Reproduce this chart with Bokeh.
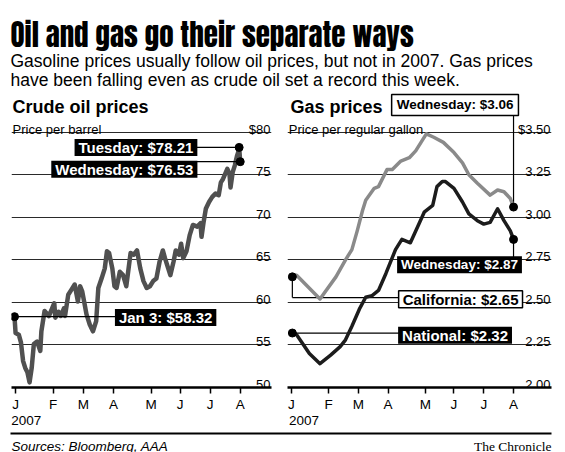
from bokeh.plotting import figure
from bokeh.models import Range1d, FixedTicker, LinearAxis, Label
from bokeh.layouts import column, row
from bokeh.embed import file_html
from bokeh.resources import INLINE
from bokeh.core.properties import value

# ---------------- data ----------------
title = "Oil and gas go their separate ways"
subtitle_lines = ["Gasoline prices usually follow oil prices, but not in 2007. Gas prices",
                  "have been falling even as crude oil set a record this week."]

# x positions are day-of-year 2007 (Jan 1 = 0)
month_tick_days = [3, 38, 66, 94, 129, 156, 184, 212]
month_tick_labels = ["J", "F", "M", "A", "M", "J", "J", "A"]
year_label = "2007"

# Crude oil, $ per barrel
oil_days = [2, 3, 6, 8, 10, 12, 14, 16, 18, 20, 23, 26, 27, 30, 34, 37, 39, 40, 43, 45,
            48, 49, 52, 55, 58, 61, 63, 65, 69, 72, 75, 78, 80, 83, 86, 88, 90, 93, 95, 97,
            100, 103, 106, 110, 113, 116, 119, 122, 125, 128, 131, 134, 137, 140, 142, 145,
            147, 150, 152, 155, 157, 159, 162, 165, 168, 172, 175, 176, 178, 180, 183, 186,
            189, 192, 194, 196, 200, 202, 203, 205, 207, 209, 210, 211, 212]
oil_price = [58.32, 56.4, 56.2, 55.3, 53.1, 52.3, 51.8, 50.6, 52.3, 55.1, 55.4, 54.3, 56.6,
             59.0, 58.4, 59.3, 59.9, 58.2, 58.9, 58.4, 59.3, 58.4, 60.9, 61.5, 62.1, 60.1,
             61.9, 61.3, 58.6, 57.4, 56.6, 57.8, 61.7, 62.8, 64.0, 66.0, 65.8, 64.0, 61.9,
             61.7, 63.6, 63.2, 61.9, 65.8, 65.6, 66.1, 64.0, 62.5, 61.7, 61.9, 62.5, 62.8,
             64.8, 66.1, 65.2, 64.0, 63.2, 64.8, 66.1, 65.6, 66.9, 65.2, 66.0, 67.9, 69.1,
             68.9, 69.3, 67.7, 69.5, 71.0, 71.8, 72.4, 72.8, 72.6, 74.1, 74.5, 75.7, 75.1,
             73.5, 75.3, 76.1, 77.2, 77.6, 78.21, 76.53]
oil_ticks = [50, 55, 60, 65, 70, 75, 80]
oil_tick_labels = ["50", "55", "60", "65", "70", "75", "$80"]

# Gas, $ per regular gallon
cal_days = [4, 8, 30, 45, 54, 60, 65, 70, 73, 81, 85, 93, 98, 106, 114, 120, 125, 130,
            137, 146, 156, 164, 170, 178, 190, 197, 203, 209, 212]
cal_price = [2.65, 2.66, 2.52, 2.65, 2.75, 2.81, 2.92, 3.04, 3.10, 3.17, 3.18, 3.28, 3.28,
             3.33, 3.35, 3.39, 3.44, 3.49, 3.47, 3.44, 3.38, 3.32, 3.25, 3.20, 3.13, 3.16,
             3.15, 3.11, 3.06]
nat_days = [4, 8, 20, 30, 40, 49, 54, 60, 67, 73, 79, 85, 92, 101, 107, 115, 123, 128, 136,
            140, 145, 148, 156, 164, 170, 178, 184, 190, 197, 203, 209, 212]
nat_price = [2.32, 2.31, 2.20, 2.14, 2.19, 2.24, 2.28, 2.36, 2.46, 2.53, 2.54, 2.57, 2.67,
             2.81, 2.87, 2.85, 2.96, 3.03, 3.07, 3.18, 3.21, 3.21, 3.17, 3.09, 3.02, 2.98,
             2.96, 2.97, 3.05, 2.98, 2.92, 2.87]
gas_ticks = [2.00, 2.25, 2.50, 2.75, 3.00, 3.25, 3.50]
gas_tick_labels = ["2.00", "2.25", "2.50", "2.75", "3.00", "3.25", "$3.50"]

FONT = "Liberation Sans"
HEADER_H = 92
PANEL_H = 338


def base_panel(width, left, right, x_rng, y_rng, ticks, tick_labels, year_day):
    p = figure(width=width, height=PANEL_H, x_range=Range1d(*x_rng), y_range=Range1d(*y_rng),
               title=None, output_backend="svg", toolbar_location=None,
               y_axis_location=None,
               min_border_left=left, min_border_right=right, min_border_top=0,
               min_border_bottom=43)
    p.outline_line_color = None
    p.background_fill_color = "white"
    p.border_fill_color = "white"
    p.xgrid.visible = False
    p.ygrid.ticker = FixedTicker(ticks=ticks[1:])
    p.ygrid.grid_line_color = "#2a2a2a"
    p.ygrid.grid_line_width = 1
    ax = p.xaxis[0]
    ax.ticker = FixedTicker(ticks=month_tick_days)
    ax.major_label_overrides = {d: m for d, m in zip(month_tick_days, month_tick_labels)}
    ax.axis_line_width = 2.5
    ax.axis_line_color = "black"
    ax.major_tick_line_width = 1.5
    ax.major_tick_line_color = "black"
    ax.major_tick_in = 0
    ax.major_tick_out = 6
    ax.minor_tick_line_color = None
    ax.major_label_standoff = 3
    ax.major_label_text_font = FONT
    ax.major_label_text_font_size = "13.5px"
    ax.major_label_text_color = "black"
    ax2 = LinearAxis(ticker=FixedTicker(ticks=[year_day]),
                     major_label_overrides={year_day: year_label},
                     axis_line_color=None, major_tick_line_color=None,
                     minor_tick_line_color=None, major_label_standoff=-5,
                     major_label_text_font=FONT, major_label_text_font_size="13.5px",
                     major_label_text_color="black")
    p.add_layout(ax2, "below")
    # value labels at right edge, sitting on each gridline
    p.text(x=[x_rng[1]] * len(ticks), y=ticks, text=tick_labels, text_align="right",
           text_baseline="alphabetic", x_offset=-1, y_offset=-3,
           text_font=value(FONT), text_font_size="13px", text_color="black")
    return p


def box_label(p, x, y, text, dark=True, size="15px", pad=(4, 0)):
    lab = Label(x=x, y=y, text=text, text_align="center", text_baseline="middle",
                text_font=FONT, text_font_style="bold", text_font_size=size,
                text_color="white" if dark else "black",
                background_fill_color="black" if dark else "white",
                border_line_color="black", border_line_width=1.5 if not dark else 0,
                padding=pad)
    p.add_layout(lab)


# ---------------- header ----------------
h = figure(width=565, height=HEADER_H, x_range=Range1d(0, 565), y_range=Range1d(HEADER_H, 0),
           title=None, output_backend="svg", toolbar_location=None, min_border=0,
           x_axis_location=None, y_axis_location=None)
h.grid.visible = False
h.outline_line_color = None
h.text(x=[10], y=[34], text=[title], text_font=value("Anton"), text_font_size="29px",
       text_baseline="alphabetic", text_color="black")
h.text(x=[10, 10], y=[60, 79.5], text=subtitle_lines, text_font=value(FONT),
       text_font_size="17.5px", text_baseline="alphabetic", text_color="black")

top_off = 106.7 - HEADER_H  # baseline of panel titles below the panel top

# ---------------- crude oil panel ----------------
oil_x = (-0.79, 241.1)
oil_y = (50, 84.66)
p1 = base_panel(282, 11, 11, oil_x, oil_y, oil_ticks, oil_tick_labels, 13)
p1.text(x=[oil_x[0]], y=[oil_y[1]], text=["Crude oil prices"], x_offset=1, y_offset=top_off,
        text_baseline="alphabetic", text_font=value(FONT), text_font_style="bold",
        text_font_size="18px", text_color="black")
p1.text(x=[oil_x[0]], y=[oil_ticks[-1]], text=["Price per barrel"], x_offset=1, y_offset=-3,
        text_baseline="alphabetic", text_font=value(FONT), text_font_size="13px",
        text_color="black")
p1.line(oil_days, oil_price, line_color="#505050", line_width=4.5, line_join="round")
# leaders
p1.segment(x0=[oil_days[-2], oil_days[-1], oil_days[0]], y0=[oil_price[-2], oil_price[-1], oil_price[0]],
           x1=[115, 104, 142], y1=[oil_price[-2], oil_price[-1], oil_price[0]],
           line_color="black", line_width=1.2)
p1.scatter([oil_days[0], oil_days[-2], oil_days[-1]], [oil_price[0], oil_price[-2], oil_price[-1]],
           size=8, color="black")
box_label(p1, 115.0, 78.20, "Tuesday: $78.21")
box_label(p1, 104.2, 75.64, "Wednesday: $76.53")
box_label(p1, 142.6, 58.23, "Jan 3: $58.32")

# ---------------- gas panel ----------------
gas_x = (-0.56, 247.7)
gas_y = (2.0, 3.733)
p2 = base_panel(283, 5, 14, gas_x, gas_y, gas_ticks, gas_tick_labels, 15)
p2.text(x=[gas_x[0]], y=[gas_y[1]], text=["Gas prices"], x_offset=3, y_offset=top_off,
        text_baseline="alphabetic", text_font=value(FONT), text_font_style="bold",
        text_font_size="18px", text_color="black")
p2.text(x=[gas_x[0]], y=[gas_ticks[-1]], text=["Price per regular gallon"], x_offset=1.3,
        y_offset=-3, text_baseline="alphabetic", text_font=value(FONT),
        text_font_size="13px", text_color="black")
# leaders
p2.segment(x0=[cal_days[-1], nat_days[-1], cal_days[0], cal_days[0], nat_days[0]],
           y0=[cal_price[-1], nat_price[-1], cal_price[0], 2.528, nat_price[0]],
           x1=[cal_days[-1], nat_days[-1], cal_days[0], 162, 157],
           y1=[3.66, 2.72, 2.528, 2.528, nat_price[0]],
           line_color="black", line_width=1.2)
p2.line(cal_days, cal_price, line_color="#8a8a8a", line_width=3.5, line_join="round")
p2.line(nat_days, nat_price, line_color="#1c1c1c", line_width=3.5, line_join="round")
p2.scatter([cal_days[0], cal_days[-1], nat_days[0], nat_days[-1]],
           [cal_price[0], cal_price[-1], nat_price[0], nat_price[-1]], size=8, color="black")
box_label(p2, 157.0, 3.66, "Wednesday: $3.06", dark=False, size="13.5px", pad=(5, 3))
box_label(p2, 161.2, 2.7215, "Wednesday: $2.87", size="13.5px", pad=(4, 1))
box_label(p2, 162.2, 2.518, "California: $2.65", dark=False)
box_label(p2, 157.0, 2.307, "National: $2.32")

# ---------------- footer ----------------
f = figure(width=565, height=22, x_range=Range1d(0, 565), y_range=Range1d(22, 0),
           title=None, output_backend="svg", toolbar_location=None, min_border=0,
           x_axis_location=None, y_axis_location=None)
f.grid.visible = False
f.outline_line_color = None
f.segment(x0=[10], y0=[3], x1=[551], y1=[3], line_color="black", line_width=2)
f.text(x=[11], y=[15.5], text=["Sources: Bloomberg, AAA"], text_font=value(FONT),
       text_font_style="italic", text_font_size="13.5px", text_baseline="alphabetic",
       text_color="black")
f.text(x=[551], y=[15.5], text=["The Chronicle"], text_font=value("Liberation Serif"),
       text_font_size="13.5px", text_align="right", text_baseline="alphabetic",
       text_color="black")

layout = column(h, row(p1, p2, spacing=0), f, spacing=0)
open("out.html", "w").write(file_html(layout, INLINE))
